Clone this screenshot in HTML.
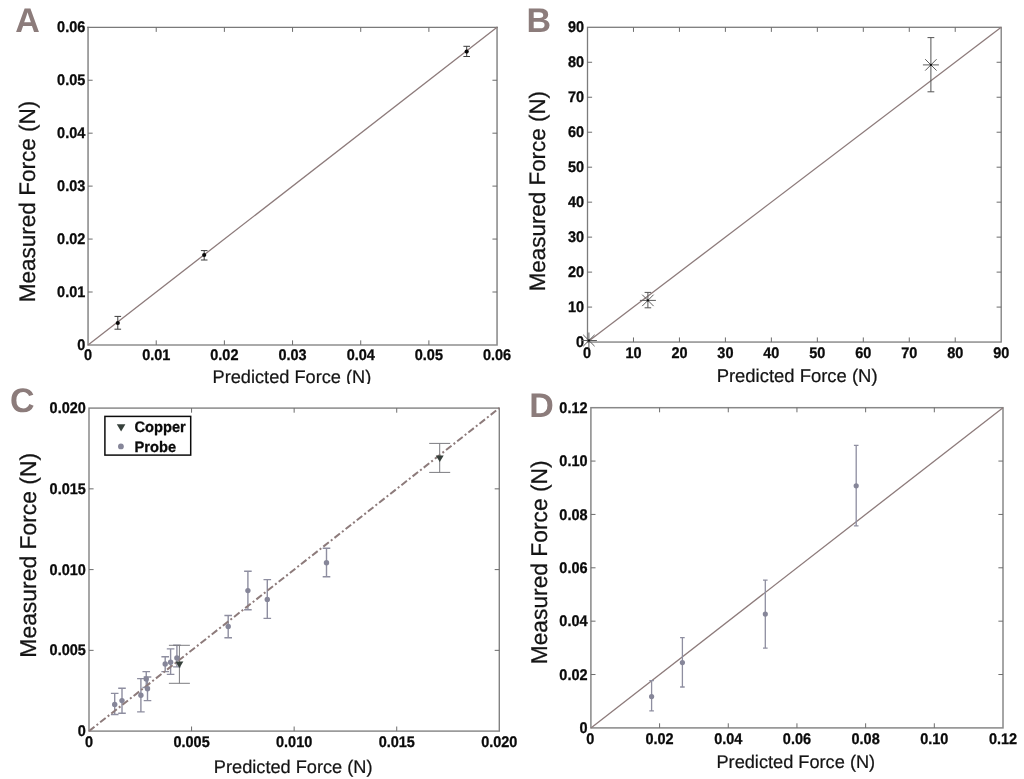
<!DOCTYPE html>
<html lang="en">
<head>
<meta charset="utf-8">
<title>Measured vs Predicted Force</title>
<style>
html,body{margin:0;padding:0;background:#ffffff;}
body{width:1024px;height:779px;overflow:hidden;}
svg{display:block;}
</style>
</head>
<body>
<svg width="1024" height="779" viewBox="0 0 1024 779" text-rendering="geometricPrecision">
<defs><clipPath id="clipA"><rect x="0" y="0" width="512" height="383.9"/></clipPath></defs>
<rect width="1024" height="779" fill="#ffffff"/>
<path d="M88.05 26.70V344.95H497.05V26.70" fill="none" stroke="#8e8e8e" stroke-width="1.6" stroke-linejoin="miter"/>
<line x1="87.25" y1="27.30" x2="497.85" y2="27.30" stroke="#7a7a7a" stroke-width="1.2"/>
<path d="M156.22 344.95v-4.6M156.22 27.30v4.6M224.38 344.95v-4.6M224.38 27.30v4.6M292.55 344.95v-4.6M292.55 27.30v4.6M360.72 344.95v-4.6M360.72 27.30v4.6M428.88 344.95v-4.6M428.88 27.30v4.6M88.05 292.01h4.6M497.05 292.01h-4.6M88.05 239.07h4.6M497.05 239.07h-4.6M88.05 186.12h4.6M497.05 186.12h-4.6M88.05 133.18h4.6M497.05 133.18h-4.6M88.05 80.24h4.6M497.05 80.24h-4.6" fill="none" stroke="#6c6c6c" stroke-width="1.0"/>
<line x1="88.05" y1="344.95" x2="497.05" y2="27.3" stroke="#8d7b7b" stroke-width="1.3"/>
<g font-family='"Liberation Sans", sans-serif' font-weight="700" font-size="15.4px" fill="#0a0a0a" stroke="#0a0a0a" stroke-width="0.3">
<text transform="translate(88.05 360.30) scale(0.94 1)" text-anchor="middle">0</text>
<text transform="translate(156.22 360.30) scale(0.94 1)" text-anchor="middle">0.01</text>
<text transform="translate(224.38 360.30) scale(0.94 1)" text-anchor="middle">0.02</text>
<text transform="translate(292.55 360.30) scale(0.94 1)" text-anchor="middle">0.03</text>
<text transform="translate(360.72 360.30) scale(0.94 1)" text-anchor="middle">0.04</text>
<text transform="translate(428.88 360.30) scale(0.94 1)" text-anchor="middle">0.05</text>
<text transform="translate(497.05 360.30) scale(0.94 1)" text-anchor="middle">0.06</text>
<text transform="translate(85.25 350.05) scale(0.94 1)" text-anchor="end">0</text>
<text transform="translate(85.25 297.11) scale(0.94 1)" text-anchor="end">0.01</text>
<text transform="translate(85.25 244.17) scale(0.94 1)" text-anchor="end">0.02</text>
<text transform="translate(85.25 191.22) scale(0.94 1)" text-anchor="end">0.03</text>
<text transform="translate(85.25 138.28) scale(0.94 1)" text-anchor="end">0.04</text>
<text transform="translate(85.25 85.34) scale(0.94 1)" text-anchor="end">0.05</text>
<text transform="translate(85.25 32.40) scale(0.94 1)" text-anchor="end">0.06</text>
</g>
<path d="M117.80 316.40V329.20M114.50 316.40h6.60M114.50 329.20h6.60" fill="none" stroke="#3c3c3c" stroke-width="1.0"/>
<circle cx="117.8" cy="323" r="2.1" fill="#0a0a0a"/>
<path d="M204.20 250.60V260.00M200.90 250.60h6.60M200.90 260.00h6.60" fill="none" stroke="#3c3c3c" stroke-width="1.0"/>
<circle cx="204.2" cy="255" r="2.1" fill="#0a0a0a"/>
<path d="M466.70 46.30V56.50M463.40 46.30h6.60M463.40 56.50h6.60" fill="none" stroke="#3c3c3c" stroke-width="1.0"/>
<circle cx="466.7" cy="51.6" r="2.1" fill="#0a0a0a"/>
<text x="291.90" y="383.20" text-anchor="middle" font-family='"Liberation Sans", sans-serif' font-size="18.2px" fill="#141414" stroke="#141414" stroke-width="0.22" clip-path="url(#clipA)">Predicted Force (N)</text>
<text transform="translate(34.60 201.50) rotate(-90)" text-anchor="middle" font-family='"Liberation Sans", sans-serif' font-size="22.55px" fill="#141414" stroke="#141414" stroke-width="0.25">Measured Force (N)</text>
<text x="15.30" y="32.10" font-family='"Liberation Sans", sans-serif' font-weight="700" font-size="34px" fill="#8c7c7b">A</text>
<rect x="587.50" y="27.30" width="413.70" height="314.75" fill="none" stroke="#7c7c7c" stroke-width="1.3"/>
<path d="M633.47 342.05v-4.6M633.47 27.30v4.6M679.43 342.05v-4.6M679.43 27.30v4.6M725.40 342.05v-4.6M725.40 27.30v4.6M771.37 342.05v-4.6M771.37 27.30v4.6M817.33 342.05v-4.6M817.33 27.30v4.6M863.30 342.05v-4.6M863.30 27.30v4.6M909.27 342.05v-4.6M909.27 27.30v4.6M955.23 342.05v-4.6M955.23 27.30v4.6M587.50 307.08h4.6M1001.20 307.08h-4.6M587.50 272.11h4.6M1001.20 272.11h-4.6M587.50 237.13h4.6M1001.20 237.13h-4.6M587.50 202.16h4.6M1001.20 202.16h-4.6M587.50 167.19h4.6M1001.20 167.19h-4.6M587.50 132.22h4.6M1001.20 132.22h-4.6M587.50 97.24h4.6M1001.20 97.24h-4.6M587.50 62.27h4.6M1001.20 62.27h-4.6" fill="none" stroke="#6c6c6c" stroke-width="1.0"/>
<line x1="587.5" y1="342.05" x2="1001.2" y2="27.3" stroke="#8d7b7b" stroke-width="1.3"/>
<g font-family='"Liberation Sans", sans-serif' font-weight="700" font-size="15.4px" fill="#0a0a0a" stroke="#0a0a0a" stroke-width="0.3">
<text transform="translate(586.90 357.70) scale(0.94 1)" text-anchor="middle">0</text>
<text transform="translate(633.47 357.70) scale(0.94 1)" text-anchor="middle">10</text>
<text transform="translate(679.43 357.70) scale(0.94 1)" text-anchor="middle">20</text>
<text transform="translate(725.40 357.70) scale(0.94 1)" text-anchor="middle">30</text>
<text transform="translate(771.37 357.70) scale(0.94 1)" text-anchor="middle">40</text>
<text transform="translate(817.33 357.70) scale(0.94 1)" text-anchor="middle">50</text>
<text transform="translate(863.30 357.70) scale(0.94 1)" text-anchor="middle">60</text>
<text transform="translate(909.27 357.70) scale(0.94 1)" text-anchor="middle">70</text>
<text transform="translate(955.23 357.70) scale(0.94 1)" text-anchor="middle">80</text>
<text transform="translate(1001.20 357.70) scale(0.94 1)" text-anchor="middle">90</text>
<text transform="translate(584.10 347.15) scale(0.94 1)" text-anchor="end">0</text>
<text transform="translate(584.10 312.18) scale(0.94 1)" text-anchor="end">10</text>
<text transform="translate(584.10 277.21) scale(0.94 1)" text-anchor="end">20</text>
<text transform="translate(584.10 242.23) scale(0.94 1)" text-anchor="end">30</text>
<text transform="translate(584.10 207.26) scale(0.94 1)" text-anchor="end">40</text>
<text transform="translate(584.10 172.29) scale(0.94 1)" text-anchor="end">50</text>
<text transform="translate(584.10 137.32) scale(0.94 1)" text-anchor="end">60</text>
<text transform="translate(584.10 102.34) scale(0.94 1)" text-anchor="end">70</text>
<text transform="translate(584.10 67.37) scale(0.94 1)" text-anchor="end">80</text>
<text transform="translate(584.10 32.40) scale(0.94 1)" text-anchor="end">90</text>
</g>
<path d="M580.90 340.50h16.0M588.90 332.50v16.0M583.20 334.80l11.4 11.4M583.20 346.20l11.4 -11.4" fill="none" stroke="#5c5c5c" stroke-width="1.0"/>
<rect x="587.90" y="339.50" width="2" height="2" fill="#111"/>
<path d="M647.90 292.40V307.80M644.60 292.40h6.60M644.60 307.80h6.60" fill="none" stroke="#555555" stroke-width="1.0"/>
<path d="M639.90 300.40h16.0M642.20 294.70l11.4 11.4M642.20 306.10l11.4 -11.4" fill="none" stroke="#5c5c5c" stroke-width="1.0"/>
<rect x="646.90" y="299.40" width="2" height="2" fill="#111"/>
<path d="M930.90 37.60V91.80M927.50 37.60h6.80M927.50 91.80h6.80" fill="none" stroke="#555555" stroke-width="1.0"/>
<path d="M922.90 64.90h16.0M925.20 59.20l11.4 11.4M925.20 70.60l11.4 -11.4" fill="none" stroke="#5c5c5c" stroke-width="1.0"/>
<rect x="929.90" y="63.90" width="2" height="2" fill="#111"/>
<text x="797.10" y="382.00" text-anchor="middle" font-family='"Liberation Sans", sans-serif' font-size="18.45px" fill="#141414" stroke="#141414" stroke-width="0.22">Predicted Force (N)</text>
<text transform="translate(545.30 191.15) rotate(-90)" text-anchor="middle" font-family='"Liberation Sans", sans-serif' font-size="22.4px" fill="#141414" stroke="#141414" stroke-width="0.25">Measured Force (N)</text>
<text x="526.50" y="31.80" font-family='"Liberation Sans", sans-serif' font-weight="700" font-size="34px" fill="#8c7c7b">B</text>
<rect x="89.00" y="408.10" width="410.30" height="323.00" fill="none" stroke="#828282" stroke-width="1.4"/>
<path d="M191.57 731.10v-4.6M191.57 408.10v4.6M294.15 731.10v-4.6M294.15 408.10v4.6M396.73 731.10v-4.6M396.73 408.10v4.6M89.00 650.35h4.6M499.30 650.35h-4.6M89.00 569.60h4.6M499.30 569.60h-4.6M89.00 488.85h4.6M499.30 488.85h-4.6" fill="none" stroke="#6c6c6c" stroke-width="1.0"/>
<g font-family='"Liberation Sans", sans-serif' font-weight="700" font-size="15.4px" fill="#0a0a0a" stroke="#0a0a0a" stroke-width="0.3">
<text transform="translate(89.00 747.00) scale(0.94 1)" text-anchor="middle">0</text>
<text transform="translate(191.57 747.00) scale(0.94 1)" text-anchor="middle">0.005</text>
<text transform="translate(294.15 747.00) scale(0.94 1)" text-anchor="middle">0.010</text>
<text transform="translate(396.73 747.00) scale(0.94 1)" text-anchor="middle">0.015</text>
<text transform="translate(499.30 747.00) scale(0.94 1)" text-anchor="middle">0.020</text>
<text transform="translate(85.80 736.20) scale(0.94 1)" text-anchor="end">0</text>
<text transform="translate(85.80 655.45) scale(0.94 1)" text-anchor="end">0.005</text>
<text transform="translate(85.80 574.70) scale(0.94 1)" text-anchor="end">0.010</text>
<text transform="translate(85.80 493.95) scale(0.94 1)" text-anchor="end">0.015</text>
<text transform="translate(85.80 413.20) scale(0.94 1)" text-anchor="end">0.020</text>
</g>
<path d="M114.70 693.40V714.50M110.90 693.40h7.60M110.90 714.50h7.60" fill="none" stroke="#8e8ea0" stroke-width="1.4"/>
<path d="M122.00 688.30V713.30M118.20 688.30h7.60M118.20 713.30h7.60" fill="none" stroke="#8e8ea0" stroke-width="1.4"/>
<path d="M140.90 678.60V711.90M137.10 678.60h7.60M137.10 711.90h7.60" fill="none" stroke="#8e8ea0" stroke-width="1.4"/>
<path d="M146.25 671.60V687.50M142.45 671.60h7.60M142.45 687.50h7.60" fill="none" stroke="#8e8ea0" stroke-width="1.4"/>
<path d="M147.50 677.00V700.60M143.70 677.00h7.60M143.70 700.60h7.60" fill="none" stroke="#8e8ea0" stroke-width="1.4"/>
<path d="M165.20 656.70V671.60M161.40 656.70h7.60M161.40 671.60h7.60" fill="none" stroke="#8e8ea0" stroke-width="1.4"/>
<path d="M170.60 648.90V674.40M166.80 648.90h7.60M166.80 674.40h7.60" fill="none" stroke="#8e8ea0" stroke-width="1.4"/>
<path d="M176.90 645.30V666.90M173.10 645.30h7.60M173.10 666.90h7.60" fill="none" stroke="#8e8ea0" stroke-width="1.4"/>
<path d="M228.20 615.50V637.70M224.40 615.50h7.60M224.40 637.70h7.60" fill="none" stroke="#8e8ea0" stroke-width="1.4"/>
<path d="M247.90 571.30V609.80M244.10 571.30h7.60M244.10 609.80h7.60" fill="none" stroke="#8e8ea0" stroke-width="1.4"/>
<path d="M267.30 579.60V618.40M263.50 579.60h7.60M263.50 618.40h7.60" fill="none" stroke="#8e8ea0" stroke-width="1.4"/>
<path d="M326.50 548.30V576.70M322.70 548.30h7.60M322.70 576.70h7.60" fill="none" stroke="#8e8ea0" stroke-width="1.4"/>
<path d="M179.40 645.30V683.30M168.90 645.30h21.00M168.90 683.30h21.00" fill="none" stroke="#7c7c80" stroke-width="1.0"/>
<path d="M439.70 443.40V472.40M429.20 443.40h21.00M429.20 472.40h21.00" fill="none" stroke="#7c7c80" stroke-width="1.0"/>
<line x1="89.0" y1="731.1" x2="499.3" y2="408.1" stroke="#8d7b7b" stroke-width="2.0" stroke-dasharray="7 2.6 2 2.6"/>
<circle cx="114.7" cy="704.4" r="2.7" fill="#868699"/>
<circle cx="122.0" cy="700.6" r="2.7" fill="#868699"/>
<circle cx="140.9" cy="695.3" r="2.7" fill="#868699"/>
<circle cx="146.25" cy="679.0" r="2.7" fill="#868699"/>
<circle cx="147.5" cy="688.75" r="2.7" fill="#868699"/>
<circle cx="165.2" cy="664.0" r="2.7" fill="#868699"/>
<circle cx="170.6" cy="662.2" r="2.7" fill="#868699"/>
<circle cx="176.9" cy="658.0" r="2.7" fill="#868699"/>
<circle cx="228.2" cy="626.5" r="2.7" fill="#868699"/>
<circle cx="247.9" cy="590.6" r="2.7" fill="#868699"/>
<circle cx="267.3" cy="599.4" r="2.7" fill="#868699"/>
<circle cx="326.5" cy="562.8" r="2.7" fill="#868699"/>
<path d="M175.45 661.50h7.9L179.40 667.90z" fill="#36403b"/>
<path d="M435.80 455.50h7.9L439.75 461.90z" fill="#36403b"/>
<rect x="104.9" y="416.4" width="85.8" height="38.7" fill="#ffffff" stroke="#0c0c0c" stroke-width="1.5"/>
<path d="M116.80 424.30h8.6L121.10 431.40z" fill="#36403b"/>
<circle cx="120.9" cy="446.4" r="2.9" fill="#868699"/>
<g font-family='"Liberation Sans", sans-serif' font-weight="700" font-size="15.2px" fill="#0a0a0a" stroke="#0a0a0a" stroke-width="0.3"><text transform="translate(134.5 432.3) scale(0.965 1)">Copper</text><text transform="translate(134.5 451.8) scale(0.965 1)">Probe</text></g>
<text x="293.20" y="773.20" text-anchor="middle" font-family='"Liberation Sans", sans-serif' font-size="18.2px" fill="#141414" stroke="#141414" stroke-width="0.22">Predicted Force (N)</text>
<text transform="translate(36.00 555.25) rotate(-90)" text-anchor="middle" font-family='"Liberation Sans", sans-serif' font-size="22.9px" fill="#141414" stroke="#141414" stroke-width="0.25">Measured Force (N)</text>
<text x="10.10" y="411.60" font-family='"Liberation Sans", sans-serif' font-weight="700" font-size="34px" fill="#8c7c7b">C</text>
<rect x="590.90" y="407.70" width="412.10" height="320.20" fill="none" stroke="#888888" stroke-width="1.5"/>
<path d="M659.58 727.90v-4.6M659.58 407.70v4.6M728.27 727.90v-4.6M728.27 407.70v4.6M796.95 727.90v-4.6M796.95 407.70v4.6M865.63 727.90v-4.6M865.63 407.70v4.6M934.32 727.90v-4.6M934.32 407.70v4.6M590.90 674.53h4.6M1003.00 674.53h-4.6M590.90 621.17h4.6M1003.00 621.17h-4.6M590.90 567.80h4.6M1003.00 567.80h-4.6M590.90 514.43h4.6M1003.00 514.43h-4.6M590.90 461.07h4.6M1003.00 461.07h-4.6" fill="none" stroke="#6c6c6c" stroke-width="1.0"/>
<line x1="590.9" y1="727.9" x2="1003.0" y2="407.7" stroke="#8d7b7b" stroke-width="1.3"/>
<g font-family='"Liberation Sans", sans-serif' font-weight="700" font-size="15.4px" fill="#0a0a0a" stroke="#0a0a0a" stroke-width="0.3">
<text transform="translate(590.20 743.80) scale(0.94 1)" text-anchor="middle">0</text>
<text transform="translate(659.58 743.80) scale(0.94 1)" text-anchor="middle">0.02</text>
<text transform="translate(728.27 743.80) scale(0.94 1)" text-anchor="middle">0.04</text>
<text transform="translate(796.95 743.80) scale(0.94 1)" text-anchor="middle">0.06</text>
<text transform="translate(865.63 743.80) scale(0.94 1)" text-anchor="middle">0.08</text>
<text transform="translate(934.32 743.80) scale(0.94 1)" text-anchor="middle">0.10</text>
<text transform="translate(1003.00 743.80) scale(0.94 1)" text-anchor="middle">0.12</text>
<text transform="translate(587.50 733.00) scale(0.94 1)" text-anchor="end">0</text>
<text transform="translate(587.50 679.63) scale(0.94 1)" text-anchor="end">0.02</text>
<text transform="translate(587.50 626.27) scale(0.94 1)" text-anchor="end">0.04</text>
<text transform="translate(587.50 572.90) scale(0.94 1)" text-anchor="end">0.06</text>
<text transform="translate(587.50 519.53) scale(0.94 1)" text-anchor="end">0.08</text>
<text transform="translate(587.50 466.17) scale(0.94 1)" text-anchor="end">0.10</text>
<text transform="translate(587.50 412.80) scale(0.94 1)" text-anchor="end">0.12</text>
</g>
<path d="M651.60 680.70V710.80M649.30 680.70h4.60M649.30 710.80h4.60" fill="none" stroke="#8e8ea0" stroke-width="1.3"/>
<circle cx="651.6" cy="696.6" r="2.6" fill="#868699"/>
<path d="M682.40 637.70V687.00M680.10 637.70h4.60M680.10 687.00h4.60" fill="none" stroke="#8e8ea0" stroke-width="1.3"/>
<circle cx="682.4" cy="662.6" r="2.6" fill="#868699"/>
<path d="M765.30 580.10V648.20M763.00 580.10h4.60M763.00 648.20h4.60" fill="none" stroke="#8e8ea0" stroke-width="1.3"/>
<circle cx="765.3" cy="614.1" r="2.6" fill="#868699"/>
<path d="M856.20 445.30V525.80M853.90 445.30h4.60M853.90 525.80h4.60" fill="none" stroke="#8e8ea0" stroke-width="1.3"/>
<circle cx="856.2" cy="485.8" r="2.6" fill="#868699"/>
<text x="795.80" y="767.50" text-anchor="middle" font-family='"Liberation Sans", sans-serif' font-size="18.2px" fill="#141414" stroke="#141414" stroke-width="0.22">Predicted Force (N)</text>
<text transform="translate(546.70 562.35) rotate(-90)" text-anchor="middle" font-family='"Liberation Sans", sans-serif' font-size="22.8px" fill="#141414" stroke="#141414" stroke-width="0.25">Measured Force (N)</text>
<text x="529.20" y="416.70" font-family='"Liberation Sans", sans-serif' font-weight="700" font-size="34px" fill="#8c7c7b">D</text>
</svg>
</body>
</html>
